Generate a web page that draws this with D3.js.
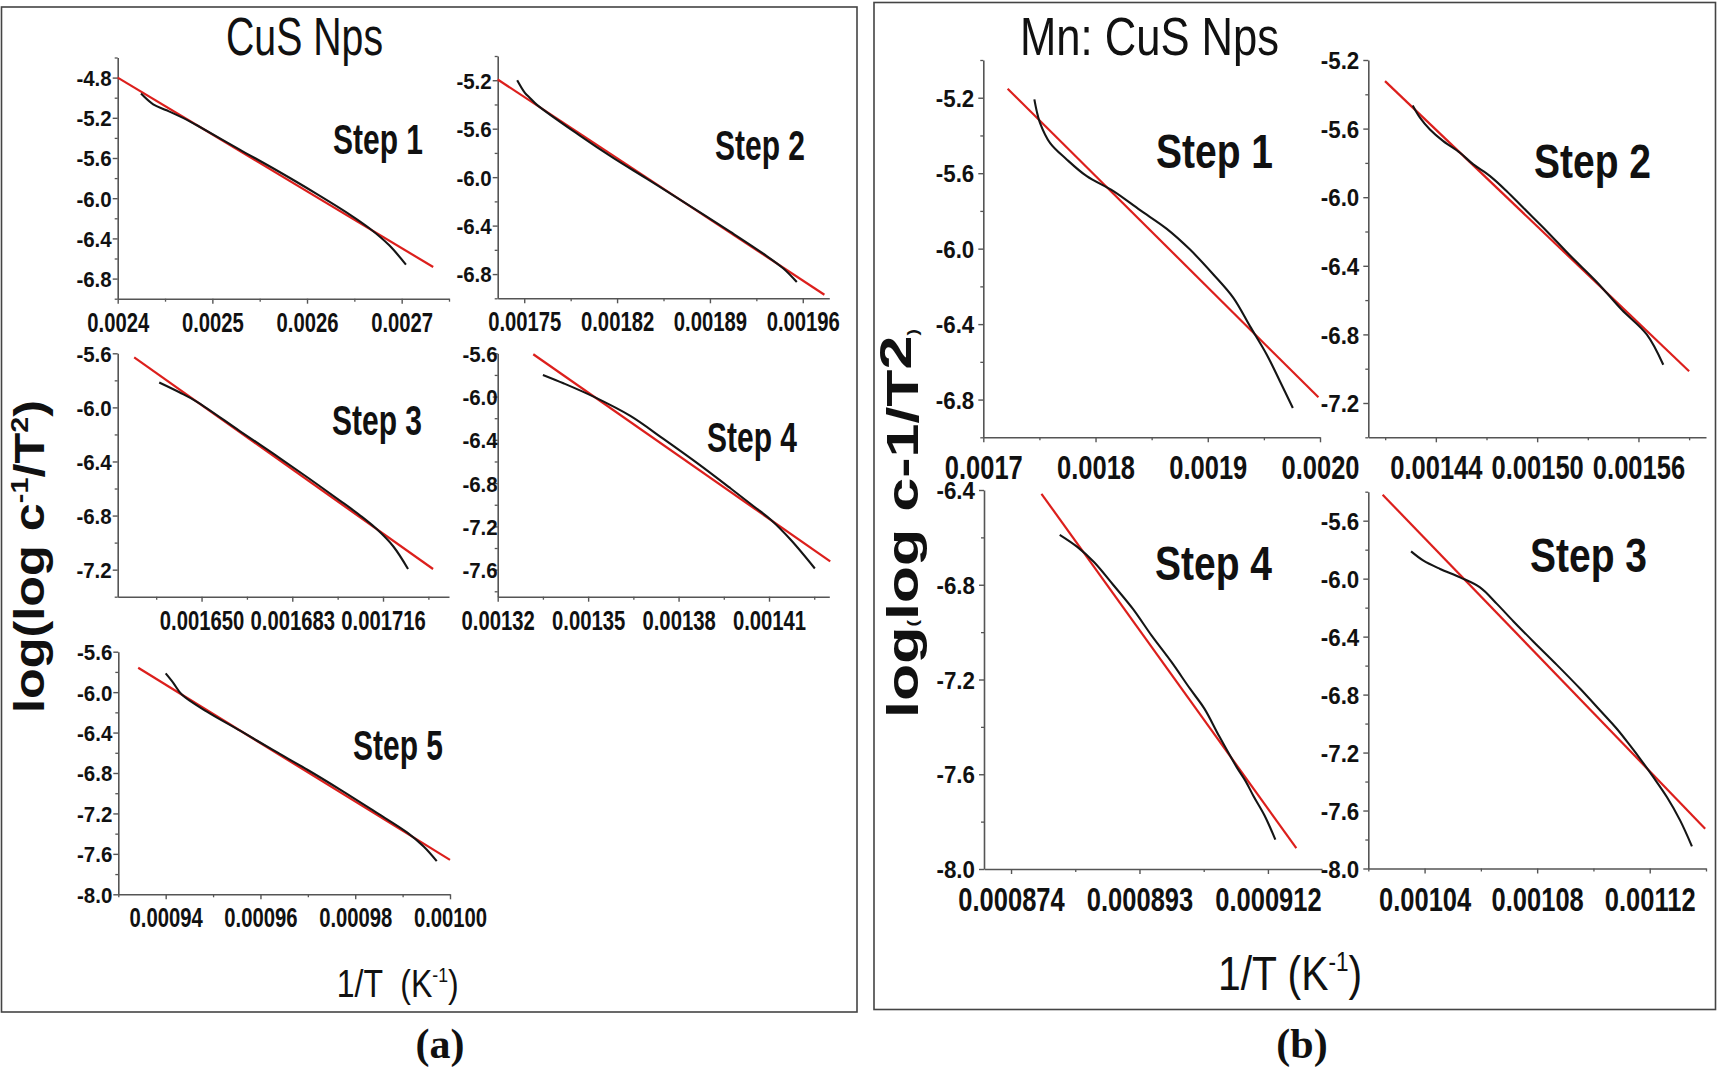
<!DOCTYPE html>
<html>
<head>
<meta charset="utf-8">
<script src="https://cdn.jsdelivr.net/npm/d3@7/dist/d3.min.js"></script>
<style>
  html, body { margin: 0; padding: 0; background: #fff; }
  svg text { white-space: pre; }
</style>
</head>
<body>
<svg id="chart" width="1720" height="1069"></svg>
<script>
// ---------------- DATA ----------------
// (a) CuS Nps
const cusStep1X = [0.0024246,0.0024375,0.0024516,0.0024727,0.0024832,0.0025289,0.0025710,0.0026097,0.0026448,0.0026659,0.0026869,0.0027045];
const cusStep1Y = [-4.959,-5.066,-5.125,-5.218,-5.272,-5.516,-5.739,-5.954,-6.160,-6.299,-6.469,-6.661];
const cusStep1FitX = [0.0024, 0.0027333];
const cusStep1FitY = [-4.8, -6.685];
const cusStep1XTicks = ["0.0024","0.0025","0.0026","0.0027"];
const cusStep1YTicks = ["-4.8","-5.2","-5.6","-6.0","-6.4","-6.8"];

const cusStep2X = [0.0017447,0.0017505,0.0017543,0.0017594,0.0017920,0.0018171,0.0018423,0.0018674,0.0019052,0.0019303,0.0019454,0.0019555];
const cusStep2Y = [-5.200,-5.304,-5.346,-5.401,-5.657,-5.841,-6.012,-6.186,-6.450,-6.632,-6.754,-6.866];
const cusStep2FitX = [0.00173, 0.0019763];
const cusStep2FitY = [-5.194, -6.971];
const cusStep2XTicks = ["0.00175","0.00182","0.00189","0.00196"];
const cusStep2YTicks = ["-5.2","-5.6","-6.0","-6.4","-6.8"];

const cusStep3X = [0.0016346,0.0016421,0.0016482,0.0016639,0.0016761,0.0016882,0.0017003,0.0017076,0.0017136,0.0017197,0.0017251];
const cusStep3Y = [-5.816,-5.890,-5.957,-6.175,-6.342,-6.513,-6.689,-6.798,-6.898,-7.027,-7.195];
const cusStep3FitX = [0.0016255, 0.0017342];
const cusStep3FitY = [-5.630, -7.195];
const cusStep3XTicks = ["0.001650","0.001683","0.001716"];
const cusStep3YTicks = ["-5.6","-6.0","-6.4","-6.8","-7.2"];

const cusStep4X = [0.0013350,0.0013418,0.0013518,0.0013640,0.0013751,0.0013862,0.0013973,0.0014050,0.0014106,0.0014172,0.0014252];
const cusStep4Y = [-5.800,-5.877,-6.001,-6.179,-6.394,-6.616,-6.850,-7.016,-7.139,-7.324,-7.589];
const cusStep4FitX = [0.0013318, 0.0014303];
const cusStep4FitY = [-5.609, -7.524];
const cusStep4XTicks = ["0.00132","0.00135","0.00138","0.00141"];
const cusStep4YTicks = ["-5.6","-6.0","-6.4","-6.8","-7.2","-7.6"];

const cusStep5X = [0.0009400,0.0009416,0.0009434,0.0009487,0.0009558,0.0009628,0.0009699,0.0009769,0.0009840,0.0009910,0.0009945,0.0009972];
const cusStep5Y = [-5.815,-5.908,-6.024,-6.193,-6.384,-6.577,-6.768,-6.967,-7.178,-7.390,-7.530,-7.672];
const cusStep5FitX = [0.0009342, 0.0010];
const cusStep5FitY = [-5.759, -7.660];
const cusStep5XTicks = ["0.00094","0.00096","0.00098","0.00100"];
const cusStep5YTicks = ["-5.6","-6.0","-6.4","-6.8","-7.2","-7.6","-8.0"];

// (b) Mn: CuS Nps
const mnStep1X = [0.0017455,0.0017476,0.0017505,0.0017594,0.0017743,0.0017922,0.0018159,0.0018397,0.0018635,0.0018842,0.0019050,0.0019228,0.0019377,0.0019526,0.0019644,0.0019758];
const mnStep1Y = [-5.209,-5.271,-5.333,-5.439,-5.527,-5.616,-5.695,-5.796,-5.895,-6.005,-6.137,-6.261,-6.412,-6.562,-6.704,-6.845];
const mnStep1FitX = [0.0017217, 0.0019986];
const mnStep1FitY = [-5.152, -6.788];
const mnStep1XTicks = ["0.0017","0.0018","0.0019","0.0020"];
const mnStep1YTicks = ["-5.2","-5.6","-6.0","-6.4","-6.8"];

const mnStep2X = [0.0014263,0.0014306,0.0014365,0.0014444,0.0014543,0.0014622,0.0014721,0.0014820,0.0014918,0.0015057,0.0015195,0.0015353,0.0015500,0.0015649,0.0015747];
const mnStep2Y = [-5.465,-5.536,-5.605,-5.673,-5.741,-5.809,-5.877,-5.965,-6.062,-6.198,-6.340,-6.494,-6.655,-6.800,-6.977];
const mnStep2FitX = [0.0014099, 0.00159];
const mnStep2FitY = [-5.323, -7.015];
const mnStep2XTicks = ["0.00144","0.00150","0.00156"];
const mnStep2YTicks = ["-5.2","-5.6","-6.0","-6.4","-6.8","-7.2"];

const mnStep4X = [0.0008812,0.0008838,0.0008863,0.0008891,0.0008920,0.0008948,0.0008977,0.0009005,0.0009026,0.0009048,0.0009074,0.0009087,0.0009099,0.0009115,0.0009131];
const mnStep4Y = [-6.589,-6.640,-6.705,-6.800,-6.901,-7.015,-7.125,-7.240,-7.323,-7.440,-7.571,-7.629,-7.694,-7.774,-7.876];
const mnStep4FitX = [0.0008785, 0.0009162];
const mnStep4FitY = [-6.416, -7.912];
const mnStep4XTicks = ["0.000874","0.000893","0.000912"];
const mnStep4YTicks = ["-6.4","-6.8","-7.2","-7.6","-8.0"];

const mnStep3X = [0.0010352,0.0010396,0.0010455,0.0010526,0.0010597,0.0010657,0.0010716,0.0010787,0.0010870,0.0010953,0.0011024,0.0011083,0.0011130,0.0011166,0.0011213,0.0011261,0.0011308,0.0011350];
const mnStep3Y = [-5.812,-5.876,-5.933,-5.991,-6.060,-6.174,-6.295,-6.435,-6.595,-6.760,-6.910,-7.036,-7.151,-7.243,-7.370,-7.507,-7.668,-7.847];
const mnStep3FitX = [0.0010251, 0.0011397];
const mnStep3FitY = [-5.421, -7.725];
const mnStep3XTicks = ["0.00104","0.00108","0.00112"];
const mnStep3YTicks = ["-5.6","-6.0","-6.4","-6.8","-7.2","-7.6","-8.0"];

// ---------------- LAYOUT (positions / styles) ----------------
const SMALL = { xFont: 28.5, xRatio: 0.71, xBase: 33, yFont: 22, yRatio: 0.93, yGap: 6, stepFont: 42, stepW: 90 };
const BIG   = { xFont: 34,   xRatio: 0.75, xBase: 42, yFont: 24, yRatio: 0.93, yGap: 9, stepFont: 49, stepW: 117 };

const panels = [
  { x: cusStep1X, y: cusStep1Y, fx: cusStep1FitX, fy: cusStep1FitY, xt: cusStep1XTicks, yt: cusStep1YTicks,
    xd: [0.0024, 0.00275], yd: [-7.0, -4.6], l: 117.7, r: 449, t: 57.5, b: 298.7, s: SMALL, step: "Step 1", sx: 333, sy: 154 },
  { x: cusStep2X, y: cusStep2Y, fx: cusStep2FitX, fy: cusStep2FitY, xt: cusStep2XTicks, yt: cusStep2YTicks,
    xd: [0.00173, 0.00198], yd: [-7.0, -5.0], l: 497.7, r: 829.3, t: 56, b: 298.3, s: SMALL, step: "Step 2", sx: 715, sy: 160 },
  { x: cusStep3X, y: cusStep3Y, fx: cusStep3FitX, fy: cusStep3FitY, xt: cusStep3XTicks, yt: cusStep3YTicks,
    xd: [0.0016195, 0.00174], yd: [-7.4, -5.6], l: 117.7, r: 449, t: 353.3, b: 596.7, s: SMALL, step: "Step 3", sx: 332, sy: 435 },
  { x: cusStep4X, y: cusStep4Y, fx: cusStep4FitX, fy: cusStep4FitY, xt: cusStep4XTicks, yt: cusStep4YTicks,
    xd: [0.00132, 0.00143], yd: [-7.85, -5.6], l: 497.7, r: 829.3, t: 353.3, b: 596.7, s: SMALL, yGap: 0, step: "Step 4", sx: 707, sy: 452 },
  { x: cusStep5X, y: cusStep5Y, fx: cusStep5FitX, fy: cusStep5FitY, xt: cusStep5XTicks, yt: cusStep5YTicks,
    xd: [0.00093, 0.0010], yd: [-8.0, -5.6], l: 118.3, r: 450, t: 651.7, b: 894.3, s: SMALL, step: "Step 5", sx: 353, sy: 760 },
  { x: mnStep1X, y: mnStep1Y, fx: mnStep1FitX, fy: mnStep1FitY, xt: mnStep1XTicks, yt: mnStep1YTicks,
    xd: [0.0017, 0.0020], yd: [-7.0, -5.0], l: 983.3, r: 1320, t: 60, b: 437.3, s: BIG, step: "Step 1", sx: 1156, sy: 168 },
  { x: mnStep2X, y: mnStep2Y, fx: mnStep2FitX, fy: mnStep2FitY, xt: mnStep2XTicks, yt: mnStep2YTicks,
    xd: [0.0014, 0.0016], yd: [-7.4, -5.2], l: 1368.3, r: 1706, t: 60, b: 437.3, s: BIG, step: "Step 2", sx: 1534, sy: 178 },
  { x: mnStep4X, y: mnStep4Y, fx: mnStep4FitX, fy: mnStep4FitY, xt: mnStep4XTicks, yt: mnStep4YTicks,
    xd: [0.00087, 0.00092], yd: [-8.0, -6.4], l: 984, r: 1322, t: 490, b: 869, s: BIG, step: "Step 4", sx: 1155, sy: 580 },
  { x: mnStep3X, y: mnStep3Y, fx: mnStep3FitX, fy: mnStep3FitY, xt: mnStep3XTicks, yt: mnStep3YTicks,
    xd: [0.00102, 0.00114], yd: [-8.0, -5.4], l: 1368.3, r: 1706, t: 491.7, b: 868.5, s: BIG, step: "Step 3", sx: 1530, sy: 572 }
];

const FONT = "'Liberation Sans', Arial, Helvetica, sans-serif";
const AXIS_COLOR = "#555";
const svg = d3.select("#chart");

function condense(sel, ratio) {
  sel.each(function () {
    const L = this.getComputedTextLength();
    this.setAttribute("textLength", (L * ratio).toFixed(1));
    this.setAttribute("lengthAdjust", "spacingAndGlyphs");
  });
}

function minorValues(major, domain) {
  const step = (major[1] - major[0]) / 2;
  const lo = Math.min(domain[0], domain[1]), hi = Math.max(domain[0], domain[1]);
  const out = [];
  for (let k = -40; k <= 40; k++) {
    const v = major[0] + k * step;
    if (k % 2 !== 0 && v >= lo - 1e-12 && v <= hi + 1e-12) out.push(v);
  }
  return out;
}

function drawPanel(p) {
  const s = p.s;
  const x = d3.scaleLinear().domain(p.xd).range([p.l, p.r]);
  const y = d3.scaleLinear().domain(p.yd).range([p.b, p.t]);
  const g = svg.append("g");

  const xVals = p.xt.map(Number), yVals = p.yt.map(Number);

  // minor ticks
  g.append("g").attr("transform", `translate(0,${p.b})`)
    .call(d3.axisBottom(x).tickValues(minorValues(xVals, p.xd)).tickSize(3).tickFormat(""))
    .call(a => a.select(".domain").remove())
    .call(a => a.selectAll("line").attr("stroke", AXIS_COLOR).attr("stroke-width", 1.3));
  g.append("g").attr("transform", `translate(${p.l},0)`)
    .call(d3.axisLeft(y).tickValues(minorValues(yVals, p.yd)).tickSize(3).tickFormat(""))
    .call(a => a.select(".domain").remove())
    .call(a => a.selectAll("line").attr("stroke", AXIS_COLOR).attr("stroke-width", 1.3));

  // x axis
  const xa = g.append("g").attr("transform", `translate(0,${p.b})`)
    .call(d3.axisBottom(x).tickValues(xVals).tickSize(5).tickSizeOuter(0).tickFormat((d, i) => p.xt[i]));
  xa.select(".domain").attr("stroke", AXIS_COLOR).attr("stroke-width", 1.6);
  xa.selectAll("line").attr("stroke", AXIS_COLOR).attr("stroke-width", 1.4);
  const xtxt = xa.selectAll("text")
    .attr("y", s.xBase).attr("dy", null)
    .attr("fill", "#111").attr("font-family", FONT).attr("font-weight", "bold").attr("font-size", s.xFont);
  condense(xtxt, s.xRatio);

  // y axis
  const gap = p.yGap !== undefined ? p.yGap : s.yGap;
  const ya = g.append("g").attr("transform", `translate(${p.l},0)`)
    .call(d3.axisLeft(y).tickValues(yVals).tickSize(5).tickSizeOuter(0).tickFormat((d, i) => p.yt[i]));
  ya.select(".domain").attr("stroke", AXIS_COLOR).attr("stroke-width", 1.6);
  ya.selectAll("line").attr("stroke", AXIS_COLOR).attr("stroke-width", 1.4);
  const ytxt = ya.selectAll("text")
    .attr("x", -gap).attr("dy", "0.36em")
    .attr("fill", "#111").attr("font-family", FONT).attr("font-weight", "bold").attr("font-size", s.yFont);
  condense(ytxt, s.yRatio);

  // fit line (red)
  const fit = p.fx.map((v, i) => [v, p.fy[i]]);
  g.append("path").datum(fit)
    .attr("d", d3.line().x(d => x(d[0])).y(d => y(d[1])))
    .attr("fill", "none").attr("stroke", "#dc1f1c").attr("stroke-width", 2.2);

  // data curve (black)
  const pts = p.x.map((v, i) => [v, p.y[i]]);
  g.append("path").datum(pts)
    .attr("d", d3.line().curve(d3.curveCatmullRom.alpha(0.5)).x(d => x(d[0])).y(d => y(d[1])))
    .attr("fill", "none").attr("stroke", "#151515").attr("stroke-width", 2.1);

  // step label
  g.append("text").attr("x", p.sx).attr("y", p.sy)
    .attr("font-family", FONT).attr("font-weight", "bold").attr("font-size", s.stepFont)
    .attr("fill", "#111").attr("textLength", s.stepW).attr("lengthAdjust", "spacingAndGlyphs")
    .text(p.step);
}

// panel frames
svg.append("rect").attr("x", 1.5).attr("y", 7).attr("width", 855.5).attr("height", 1005)
  .attr("fill", "none").attr("stroke", "#444").attr("stroke-width", 1.6);
svg.append("rect").attr("x", 874).attr("y", 2.5).attr("width", 841.5).attr("height", 1007)
  .attr("fill", "none").attr("stroke", "#444").attr("stroke-width", 1.6);

panels.forEach(drawPanel);

// titles
svg.append("text").attr("x", 226).attr("y", 55)
  .attr("font-family", FONT).attr("font-size", 53).attr("fill", "#111")
  .attr("textLength", 157).attr("lengthAdjust", "spacingAndGlyphs").text("CuS Nps");
svg.append("text").attr("x", 1020).attr("y", 55)
  .attr("font-family", FONT).attr("font-size", 53).attr("fill", "#111")
  .attr("textLength", 259).attr("lengthAdjust", "spacingAndGlyphs").text("Mn: CuS Nps");

// x-axis titles
const xtA = svg.append("text").attr("x", 336.7).attr("y", 996.7)
  .attr("font-family", FONT).attr("font-size", 38).attr("fill", "#111")
  .attr("textLength", 122).attr("lengthAdjust", "spacingAndGlyphs");
xtA.append("tspan").text("1/T  (K");
xtA.append("tspan").attr("font-size", 21).attr("dy", -15).text("-1");
xtA.append("tspan").attr("dy", 15).text(")");

const xtB = svg.append("text").attr("x", 1218).attr("y", 989.6)
  .attr("font-family", FONT).attr("font-size", 49).attr("fill", "#111")
  .attr("textLength", 144).attr("lengthAdjust", "spacingAndGlyphs");
xtB.append("tspan").text("1/T (K");
xtB.append("tspan").attr("font-size", 27).attr("dy", -19).text("-1");
xtB.append("tspan").attr("dy", 19).text(")");

// y-axis titles
const ytA = svg.append("text").attr("transform", "translate(44,556.5) rotate(-90)")
  .attr("text-anchor", "middle").attr("font-family", FONT).attr("font-weight", "bold")
  .attr("font-size", 42).attr("fill", "#111")
  .attr("textLength", 313).attr("lengthAdjust", "spacingAndGlyphs");
ytA.append("tspan").text("log(log c");
ytA.append("tspan").attr("font-size", 24).attr("dy", -16).text("-1");
ytA.append("tspan").attr("dy", 16).text("/T");
ytA.append("tspan").attr("font-size", 24).attr("dy", -16).text("2");
ytA.append("tspan").attr("dy", 16).text(")");

const ytB = svg.append("text").attr("transform", "translate(918,523.5) rotate(-90)")
  .attr("text-anchor", "middle").attr("font-family", FONT).attr("font-weight", "bold")
  .attr("font-size", 44).attr("fill", "#111")
  .attr("textLength", 389).attr("lengthAdjust", "spacingAndGlyphs");
ytB.append("tspan").text("log");
ytB.append("tspan").attr("font-size", 14).text("(");
ytB.append("tspan").text("log c-1/T");
ytB.append("tspan").attr("dy", -7).text("2");
ytB.append("tspan").attr("font-size", 14).attr("dy", 7).text(")");

// panel letters
svg.append("text").attr("x", 440).attr("y", 1058).attr("text-anchor", "middle")
  .attr("font-family", "'Liberation Serif', 'Times New Roman', serif").attr("font-weight", "bold")
  .attr("font-size", 42).attr("fill", "#111").text("(a)");
svg.append("text").attr("x", 1302).attr("y", 1058).attr("text-anchor", "middle")
  .attr("font-family", "'Liberation Serif', 'Times New Roman', serif").attr("font-weight", "bold")
  .attr("font-size", 42).attr("fill", "#111").text("(b)");
</script>
</body>
</html>
